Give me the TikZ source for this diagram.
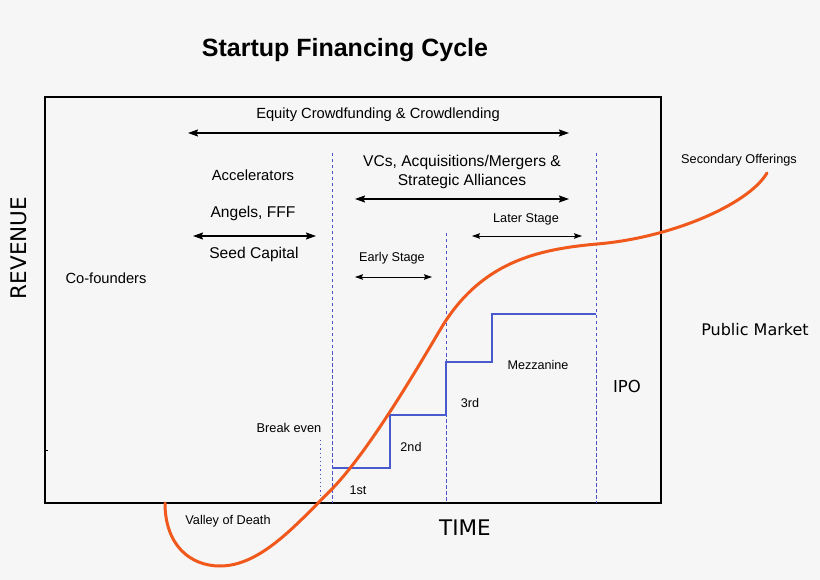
\documentclass[tikz,border=0pt]{standalone}
\usepackage{fontspec}
\setmainfont{Liberation Sans}
\newfontfamily\dejavu{DejaVu Sans}
\usetikzlibrary{arrows.meta}
\definecolor{bgc}{RGB}{246,246,246}
\definecolor{curvec}{RGB}{240,88,28}
\definecolor{stepc}{RGB}{72,90,205}
\definecolor{dashc}{RGB}{72,84,200}
\tikzset{
  lbl/.style={inner sep=0pt, anchor=center},
  bigarrow/.style={line width=1.4pt, {Stealth[length=10pt,width=7pt,inset=1.5pt]}-{Stealth[length=10pt,width=7pt,inset=1.5pt]}},
  smallarrow/.style={line width=0.9pt, {Stealth[length=8pt,width=5.5pt,inset=1.2pt]}-{Stealth[length=8pt,width=5.5pt,inset=1.2pt]}},
  divider/.style={dashc, line width=0.9pt, dash pattern=on 3.5pt off 2.5pt},
}
\begin{document}
\begin{tikzpicture}[x=1pt,y=-1pt]
\fill[bgc] (0,0) rectangle (820,580);
\useasboundingbox (0,0) rectangle (820,580);
% frame
\draw[line width=1.4pt] (45,97) rectangle (661,503);
\draw[line width=1pt] (45,450) -- (48,450);
% dividers
\coordinate (d1t) at (332,153); \coordinate (d1b) at (332,503);
\coordinate (d2t) at (446,233); \coordinate (d2b) at (446,503);
\coordinate (d3t) at (596,153); \coordinate (d3b) at (596,503);
\draw[divider] (d1t) -- (d1b);
\draw[divider] (d2t) -- (d2b);
\draw[divider] (d3t) -- (d3b);
\coordinate (bet) at (320,440); \coordinate (beb) at (320,503);
\draw[dashc, line width=1pt, dash pattern=on 1.2pt off 3pt] (bet) -- (beb);
% steps
\draw[stepc, line width=1.4pt] (332,468) -- (390,468) -- (390,415) -- (446,415) -- (446,362) -- (492,362) -- (492,314) -- (596,314);
% curve
\draw[curvec, line width=3pt, line cap=round]
  (165,503) .. controls (165,545) and (190,566) .. (220,566)
  .. controls (260,566) and (295,526) .. (330,491)
  .. controls (365,456) and (410,381) .. (440,330)
  .. controls (480,262) and (537,249.4) .. (597,244)
  .. controls (670,238) and (748,205) .. (767,173);
% title
\node[lbl, font=\bfseries\fontsize{25}{30}\selectfont] (title) at (345,50) {Startup Financing Cycle};
% axes labels
\node[lbl, font=\dejavu\fontsize{21.5}{26}\selectfont, rotate=90] (rev) at (19,248) {REVENUE};
\node[lbl, font=\dejavu\fontsize{21.5}{26}\selectfont] (time) at (465,528) {TIME};
\node[lbl, font=\dejavu\fontsize{16}{20}\selectfont] (pub) at (755,330) {Public Market};
\node[lbl, font=\dejavu\fontsize{16.5}{20}\selectfont] (ipo) at (627,386) {IPO};
% top arrow
\node[lbl, font=\fontsize{14.7}{18}\selectfont] (eq) at (378,115) {Equity Crowdfunding \& Crowdlending};
\coordinate (eqa) at (188,133); \coordinate (eqb) at (569,133);
\draw[bigarrow] (eqa) -- (eqb);
% seed
\node[lbl, font=\fontsize{14.8}{18}\selectfont] (acc) at (253,175) {Accelerators};
\node[lbl, font=\fontsize{15.6}{18}\selectfont] (ang) at (253,213) {Angels, FFF};
\coordinate (sda) at (193,236); \coordinate (sdb) at (316,236);
\draw[bigarrow] (sda) -- (sdb);
\node[lbl, font=\fontsize{15.6}{18}\selectfont] (seed) at (254,254) {Seed Capital};
\node[lbl, font=\fontsize{14.7}{18}\selectfont] (cof) at (106,278) {Co-founders};
% VCs
\node[lbl, font=\fontsize{15.6}{19.5}\selectfont, align=center] (vc) at (462,172) {VCs, Acquisitions/Mergers \&\\Strategic Alliances};
\coordinate (vca) at (355,199); \coordinate (vcb) at (569,199);
\draw[bigarrow] (vca) -- (vcb);
\node[lbl, font=\fontsize{12.7}{15}\selectfont] (lat) at (526,219) {Later Stage};
\coordinate (lta) at (472,236); \coordinate (ltb) at (582,236);
\draw[smallarrow] (lta) -- (ltb);
\node[lbl, font=\fontsize{12.7}{15}\selectfont] (ear) at (392,258) {Early Stage};
\coordinate (era) at (355,277); \coordinate (erb) at (432,277);
\draw[smallarrow] (era) -- (erb);
% stage labels
\node[lbl, font=\fontsize{12.6}{15}\selectfont] (mez) at (538,365) {Mezzanine};
\node[lbl, font=\fontsize{12.6}{15}\selectfont] (r3) at (470,403) {3rd};
\node[lbl, font=\fontsize{12.6}{15}\selectfont] (r2) at (411,447) {2nd};
\node[lbl, font=\fontsize{12.6}{15}\selectfont] (r1) at (358,490) {1st};
\node[lbl, font=\fontsize{12.8}{15}\selectfont] (be) at (289,428) {Break even};
\node[lbl, font=\fontsize{12.7}{15}\selectfont] (vod) at (228,521) {Valley of Death};
\node[lbl, font=\fontsize{12.7}{15}\selectfont] (sec) at (739,160) {Secondary Offerings};
\end{tikzpicture}
\end{document}
